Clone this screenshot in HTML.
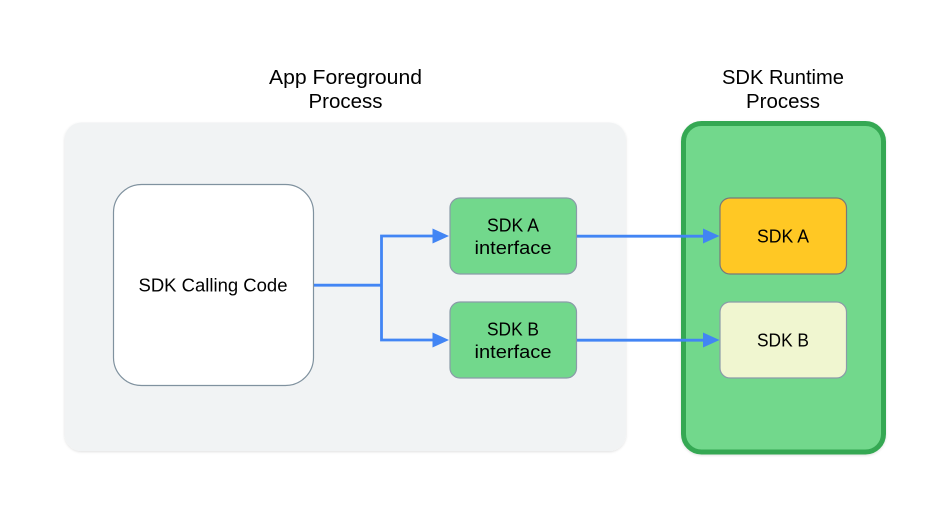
<!DOCTYPE html>
<html>
<head>
<meta charset="utf-8">
<style>
html,body{margin:0;padding:0;background:#fff;width:952px;height:528px;overflow:hidden}
svg{display:block}
text{font-family:"Liberation Sans",sans-serif;fill:#000;text-anchor:middle}
</style>
</head>
<body>
<svg width="952" height="528" viewBox="0 0 952 528" xmlns="http://www.w3.org/2000/svg">
<defs>
<filter id="s" x="-5%" y="-5%" width="110%" height="110%">
<feDropShadow dx="0" dy="1" stdDeviation="1.2" flood-color="#000" flood-opacity="0.12"/>
</filter>
</defs>
<rect width="952" height="528" fill="#fff"/>

<text x="345.500" y="84" font-size="20.500" textLength="153" lengthAdjust="spacingAndGlyphs">App Foreground</text>
<text x="345.500" y="108" font-size="20.500" textLength="74" lengthAdjust="spacingAndGlyphs">Process</text>
<text x="783" y="84" font-size="20.500" textLength="122" lengthAdjust="spacingAndGlyphs">SDK Runtime</text>
<text x="783" y="108" font-size="20.500" textLength="74" lengthAdjust="spacingAndGlyphs">Process</text>

<rect x="64.500" y="122.500" width="561.500" height="328.500" rx="17" fill="#f1f3f4" filter="url(#s)"/>
<rect x="683.500" y="123.500" width="200" height="328.500" rx="18" fill="#72d88c" stroke="#34a853" stroke-width="5" filter="url(#s)"/>

<rect x="113.500" y="184.500" width="200" height="201" rx="28" fill="#fff" stroke="#80929f" stroke-width="1.200"/>
<text x="213" y="291.500" font-size="18.500" textLength="149" lengthAdjust="spacingAndGlyphs">SDK Calling Code</text>

<rect x="450" y="198" width="126.500" height="76" rx="10" fill="#72d88c" stroke="#8a9ba8" stroke-width="1.200"/>
<text x="513" y="231.500" font-size="18" textLength="52" lengthAdjust="spacingAndGlyphs">SDK A</text>
<text x="513" y="254" font-size="18" textLength="77" lengthAdjust="spacingAndGlyphs">interface</text>

<rect x="450" y="302" width="126.500" height="76" rx="10" fill="#72d88c" stroke="#8a9ba8" stroke-width="1.200"/>
<text x="513" y="335.500" font-size="18" textLength="52" lengthAdjust="spacingAndGlyphs">SDK B</text>
<text x="513" y="358" font-size="18" textLength="77" lengthAdjust="spacingAndGlyphs">interface</text>

<rect x="720" y="198" width="126.500" height="76" rx="10" fill="#ffc824" stroke="#78787a" stroke-width="1.200"/>
<text x="783" y="242.500" font-size="18" textLength="52" lengthAdjust="spacingAndGlyphs">SDK A</text>

<rect x="720" y="302" width="126.500" height="76" rx="10" fill="#f0f6d0" stroke="#8a9ba8" stroke-width="1.200"/>
<text x="783" y="346.500" font-size="18" textLength="52" lengthAdjust="spacingAndGlyphs">SDK B</text>

<g fill="none" stroke="#4285f4" stroke-width="2.800">
<path d="M314 285.200H381.500"/>
<path d="M433 236H381.500V340H433"/>
<path d="M577 236.200H703"/>
<path d="M577 340.200H703"/>
</g>
<g fill="#4285f4">
<path d="M432.500 228.500L449 236L432.500 243.500Z"/>
<path d="M432.500 332.500L449 340L432.500 347.500Z"/>
<path d="M703 228.500L719.500 236L703 243.500Z"/>
<path d="M703 332.500L719.500 340L703 347.500Z"/>
</g>
</svg>
</body>
</html>
